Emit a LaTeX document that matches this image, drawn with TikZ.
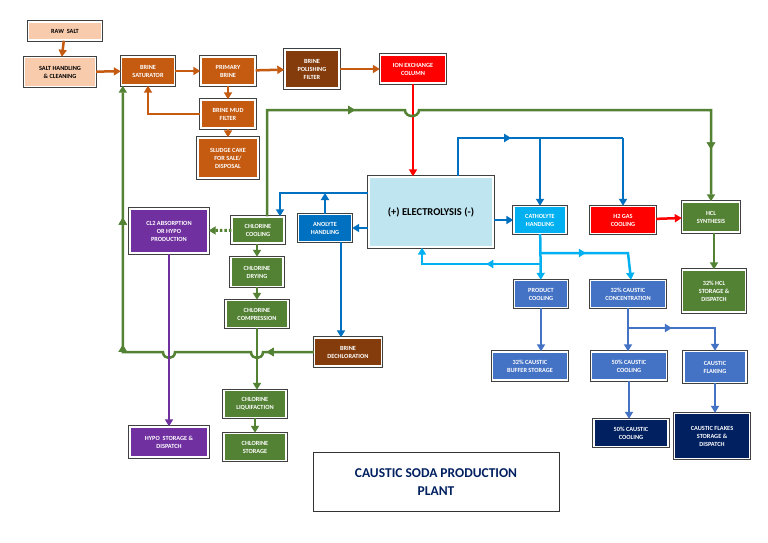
\documentclass[tikz,border=0pt]{standalone}
\usepackage{fontspec}
\setmainfont{Carlito}
\usetikzlibrary{arrows.meta,decorations.markings,calc}
\definecolor{peach}{HTML}{F8CBAD}
\definecolor{rust}{HTML}{C55A11}
\definecolor{brn}{HTML}{843C0C}
\definecolor{grn}{HTML}{548235}
\definecolor{pur}{HTML}{7030A0}
\definecolor{dblue}{HTML}{0070C0}
\definecolor{lblue}{HTML}{00B0F0}
\definecolor{mblue}{HTML}{4472C4}
\definecolor{navy}{HTML}{002060}
\definecolor{ice}{HTML}{BFE6F0}
\begin{document}
\begin{tikzpicture}[x=1pt,y=-1pt,
  box/.style={preaction={draw=black!75,line width=3.4pt},draw=white,line width=1.4pt,fill=#1,text=white,
    font=\fontsize{6.3}{8}\selectfont\bfseries,align=center,inner sep=1pt},
  bx/.style args={#1/#2/#3}{box=#1,minimum width=#2pt,minimum height=#3pt},
  ar/.style={line width=2.5pt,draw=#1,-{Triangle[length=7pt,width=8pt]}},
  ln/.style={line width=2.5pt,draw=#1},
  mid/.style={postaction={decorate},decoration={markings,mark=at position #1 with {\arrow{Triangle[length=7pt,width=8pt]}}}}]
\useasboundingbox (0,0) rectangle (768,543);
\fill[white] (0,0) rectangle (768,543);
% nodes
\node[bx=peach/73/18,text=black] (raw) at (65,31) {RAW\ \ SALT};
\node[bx=peach/71/29,text=black] (salt) at (60,72) {SALT HANDLING\\\& CLEANING};
\node[bx=rust/53/28] (sat) at (148,71) {BRINE\\SATURATOR};
\node[bx=rust/54/28] (prim) at (228,71) {PRIMARY\\BRINE};
\node[bx=brn/54/38] (pol) at (312,69) {BRINE\\POLISHING\\FILTER};
\node[bx=red/65/28] (ion) at (413,69) {ION EXCHANGE\\COLUMN};
\node[bx=rust/54/28] (mud) at (228,114) {BRINE MUD\\FILTER};
\node[bx=rust/60/40] (sl) at (228,158) {SLUDGE CAKE\\FOR SALE/\\DISPOSAL};
\node[bx=ice/124/70,text=black,font=\fontsize{10.5}{12}\selectfont\bfseries] (el) at (431,212) {(+) ELECTROLYSIS (-)};
\node[bx=lblue/52/27] (cat) at (540,220) {CATHOLYTE\\HANDLING};
\node[bx=red/65/27] (h2) at (623,220) {H2 GAS\\COOLING};
\node[bx=grn/57/30] (hcl) at (711,217) {HCL\\SYNTHESIS};
\node[bx=grn/63/42] (hst) at (714,291) {32\% HCL\\STORAGE \&\\DISPATCH};
\node[bx=mblue/53/27] (pc) at (541,294) {PRODUCT\\COOLING};
\node[bx=mblue/75/27] (cc) at (628,294) {32\% CAUSTIC\\CONCENTRATION};
\node[bx=mblue/75/28] (buf) at (530,366) {32\% CAUSTIC\\BUFFER STORAGE};
\node[bx=mblue/75/28] (c50) at (629,366) {50\% CAUSTIC\\COOLING};
\node[bx=mblue/62/31] (fl) at (715,367) {CAUSTIC\\FLAKING};
\node[bx=navy/74/27] (d50) at (631,433) {50\% CAUSTIC\\COOLING};
\node[bx=navy/75/45] (fst) at (712,436) {CAUSTIC FLAKES\\STORAGE \&\\DISPATCH};
\node[bx=dblue/53/27] (an) at (325,228) {ANOLYTE\\HANDLING};
\node[bx=grn/52/26] (cco) at (258,230) {CHLORINE\\COOLING};
\node[bx=pur/78/44] (cl2) at (169,231) {CL2 ABSORPTION\\OR HYPO\\PRODUCTION};
\node[bx=grn/52/29] (cd) at (257,272) {CHLORINE\\DRYING};
\node[bx=grn/62/27] (ccm) at (257,314) {CHLORINE\\COMPRESSION};
\node[bx=brn/67/28] (dech) at (348,352) {BRINE\\DECHLORATION};
\node[bx=grn/62/27] (liq) at (255,404) {CHLORINE\\LIQUIFACTION};
\node[bx=grn/62/27] (cst) at (255,447) {CHLORINE\\STORAGE};
\node[bx=pur/78/30] (hyp) at (169,442) {HYPO\ \ STORAGE \&\\DISPATCH};
\node[draw=black!80,line width=0.8pt,minimum width=246pt,minimum height=59pt,text=navy,align=center,
  font=\fontsize{13.5}{18}\selectfont\bfseries] (title) at (436,482) {CAUSTIC SODA PRODUCTION\\PLANT};
% brine line
\draw[ar=rust] (raw) -- (salt);
\draw[ar=rust] (salt) -- (sat);
\draw[ar=rust] (sat) -- (prim);
\draw[ar=rust] (prim) -- (pol);
\draw[ar=rust] (pol) -- (ion);
\draw[ar=rust] (prim) -- (mud);
\draw[ar=rust] (mud) -- (sl);
\draw[ar=rust] (mud.west) -| (sat.south);
\draw[ar=red] (ion.south) -- (el.north -| ion.south);
\draw[ar=red] (h2) -- (hcl);
% green return
\coordinate (gl) at ($(sat.south west)+(2,0)$);
\draw[ar=grn,mid=0.1,mid=0.45,mid=0.72] (dech.west) -- (263,352) .. controls (263,360) and (251,360) .. (251,352) -- (175,352) .. controls (175,360) and (163,360) .. (163,352) -- (gl |- dech.west) -- (gl);
\draw[ar=grn] (ccm.south) -- (ccm.south |- liq.north);
\draw[ar=grn] (liq) -- (cst);
\draw[ar=grn] (cco.south -| cd) -- (cd);
\draw[ar=grn] (cd) -- (ccm);
\draw[ar=grn,dotted,line width=3pt] (cco) -- (cl2);
\draw[ar=grn] ($(hcl.south)+(3,0)$) -- ($(hst.north)$);
\coordinate (gt) at ($(cco.north)+(9,0)$);
\draw[ar=grn,mid=0.3,mid=0.92] (gt) -- (gt |- 0,110) -- (405,110) .. controls (405,118) and (419,118) .. (419,110) -- (hcl.north |- 0,110) -- (hcl.north);
\draw[ar=pur] (cl2) -- (hyp);
% blue
\coordinate (eu) at ($(el.north)+(27,0)$);
\draw[ln=dblue,mid=0.45] (eu) -- (eu |- 0,138) -- (h2.north |- 0,138);
\draw[ar=dblue] (h2.north |- 0,138) -- (h2.north);
\draw[ar=dblue] (cat.north |- 0,138) -- (cat.north);
\draw[ar=dblue] (el.east |- cat) -- (cat);
\draw[ar=dblue] (el.west |- an) -- (an);
\coordinate (ct) at ($(cco.north)+(22,0)$);
\draw[ar=dblue] (el.west |- 0,193) -- (ct |- 0,193) -- (ct);
\draw[ar=dblue] (an.north) -- (an.north |- 0,193);
\coordinate (ab) at ($(an.south)+(16,0)$);
\draw[ar=dblue] (ab) -- (ab |- dech.north);
% light blue
\draw[ar=lblue] (cat) -- (pc);
\draw[ar=lblue,mid=0.4] (cat.south |- 0,253) -- (cc.north |- 0,253) -- ($(cc.north)+(3,0)$);
\coordinate (eb) at ($(el.south)+(-9,0)$);
\draw[ar=lblue,mid=0.4] (cat.south |- 0,264) -- (eb |- 0,264) -- (eb);
% mid blue
\coordinate (pb) at (pc.south);
\draw[ar=mblue] (pb) -- (pb |- buf.north);
\draw[ar=mblue] (cc.south) -- (c50.north -| cc.south);
\draw[ar=mblue,mid=0.4] (cc.south |- 0,328) -- (fl.north |- 0,328) -- (fl.north);
\draw[ar=mblue] (c50.south) -- (d50.north -| c50.south);
\draw[ar=mblue] (fl.south) -- (fst.north -| fl.south);
\end{tikzpicture}
\end{document}
